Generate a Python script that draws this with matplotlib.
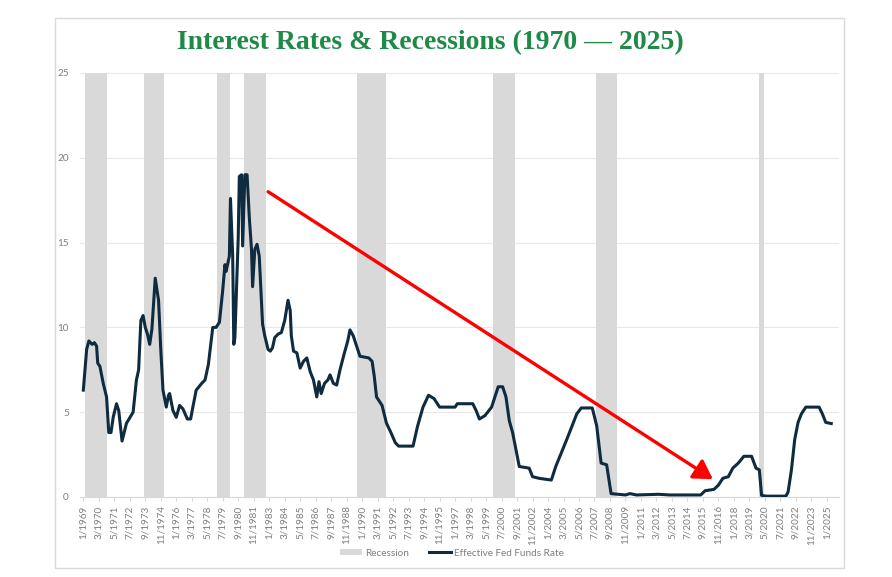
import numpy as np
import matplotlib
matplotlib.use('Agg')
from matplotlib import pyplot as plt
from matplotlib.patches import Rectangle, Patch
from matplotlib.lines import Line2D

# Effective Fed Funds Rate (months since Jan 1969, percent)
rate_month = [0, 3, 5, 8, 10, 12, 13, 15, 18, 21, 23, 25, 27, 30, 32, 35, 39, 45,
              48, 50, 52, 54, 56, 58, 60, 62, 65, 68, 70, 72, 75, 77, 78, 81, 84,
              87, 90, 94, 97, 99, 102, 107, 110, 113, 117, 120, 123, 126, 128, 129,
              132, 133, 135, 136, 137, 140, 141, 143, 144, 146, 148, 150, 152, 153,
              155, 157, 159, 162, 164, 167, 169, 171, 173, 176, 179, 182, 185, 187,
              188, 190, 193, 196, 199, 202, 205, 208, 211, 213, 215, 218, 221, 223,
              226, 229, 232, 236, 239, 241, 244, 247, 250, 258, 261, 263, 265, 270,
              274, 278, 282, 285, 298, 302, 307, 312, 317, 322, 336, 338, 352, 355,
              358, 363, 369, 375, 379, 382, 385, 388, 394, 403, 406, 412, 423, 427,
              437, 446, 450, 460, 464, 468, 473, 476, 477, 490, 494, 500, 520, 530,
              558, 562, 570, 574, 578, 583, 587, 592, 597, 604, 608, 611, 613, 617,
              635, 637, 640, 643, 646, 649, 653, 665, 668, 671, 676]
rate_value = [6.3, 8.7, 9.2, 9.0, 9.1, 8.9, 7.9, 7.7, 6.7, 5.9, 3.8, 3.8, 4.7, 5.5, 5.1, 3.3, 4.35, 5.0,
              6.9, 7.5, 10.4, 10.7, 10.0, 9.6, 9.0, 9.9, 12.9, 11.6, 8.7, 6.3, 5.3, 6.0, 6.1, 5.1, 4.7,
              5.4, 5.2, 4.6, 4.6, 5.3, 6.3, 6.7, 6.9, 7.8, 10.0, 10.0, 10.3, 12.2, 13.7, 13.3,
              14.2, 17.6, 14.2, 9.0, 9.4, 15.3, 18.9, 19.0, 14.8, 19.0, 19.0, 16.5, 14.6, 12.4,
              14.6, 14.9, 14.2, 10.2, 9.5, 8.7, 8.6, 8.8, 9.4, 9.6, 9.7, 10.4, 11.6, 11.0,
              9.5, 8.6, 8.5, 7.6, 8.0, 8.2, 7.4, 6.9, 5.9, 6.8, 6.1, 6.7, 6.9, 7.2,
              6.7, 6.6, 7.5, 8.5, 9.2, 9.85, 9.5, 8.9, 8.3, 8.2, 8.0, 7.1, 5.9, 5.4,
              4.35, 3.8, 3.2, 3.0, 3.0, 4.15, 5.3, 6.0, 5.8, 5.3, 5.3, 5.5, 5.5, 5.1,
              4.6, 4.8, 5.3, 6.5, 6.5, 5.9, 4.5, 3.8, 1.8, 1.7, 1.2, 1.1, 1.0, 1.8,
              3.4, 4.9, 5.25, 5.25, 4.2, 2.0, 1.9, 0.6, 0.2, 0.12, 0.2, 0.12, 0.16, 0.12,
              0.12, 0.37, 0.45, 0.7, 1.1, 1.2, 1.7, 2.0, 2.4, 2.4, 1.7, 1.6, 0.1, 0.05,
              0.05, 0.3, 1.6, 3.4, 4.4, 4.9, 5.3, 5.3, 4.9, 4.4, 4.33]

# recession shading (first and last month, months since Jan 1969)
recession_start = [2, 55, 121, 146, 248, 371, 464, 611]
recession_end = [21, 72, 132, 165, 273, 390, 482, 615]

tick_labels = ['1/1969', '3/1970', '5/1971', '7/1972', '9/1973', '11/1974', '1/1976',
               '3/1977', '5/1978', '7/1979', '9/1980', '11/1981', '1/1983', '3/1984',
               '5/1985', '7/1986', '9/1987', '11/1988', '1/1990', '3/1991', '5/1992',
               '7/1993', '9/1994', '11/1995', '1/1997', '3/1998', '5/1999', '7/2000',
               '9/2001', '11/2002', '1/2004', '3/2005', '5/2006', '7/2007', '9/2008',
               '11/2009', '1/2011', '3/2012', '5/2013', '7/2014', '9/2015', '11/2016',
               '1/2018', '3/2019', '5/2020', '7/2021', '9/2022', '11/2023', '1/2025']
tick_step = 14

# trend arrow (month, rate)
arrow_start = (167, 18.0)
arrow_end = (569, 1.05)

plt.rcParams['font.family'] = ['Lato', 'DejaVu Sans']

fig = plt.figure(figsize=(8.92, 5.77), dpi=100)
fig.patch.set_facecolor('white')
fig.patches.append(Rectangle((55 / 892, 9 / 577), 789 / 892, 550 / 577,
                             transform=fig.transFigure, fill=False,
                             edgecolor='#d9d9d9', lw=1))

ax = fig.add_axes([80 / 892, 80 / 577, 759 / 892, 424 / 577])

for s, e in zip(recession_start, recession_end):
    ax.axvspan(s - 0.5, e + 0.5, color='#d9d9d9', lw=0, zorder=1)

ax.plot(rate_month, rate_value, color='#0e2b3f', lw=2.2, zorder=3,
        solid_joinstyle='round')

ax.annotate('', xy=arrow_end, xytext=arrow_start,
            arrowprops=dict(arrowstyle='-|>,head_length=0.75,head_width=0.45',
                            color='#ff0000', lw=2.4, mutation_scale=15,
                            shrinkA=0, shrinkB=0),
            zorder=4)

ax.set_xlim(-3, 683)
ax.set_ylim(0, 25)
ax.set_yticks(np.arange(0, 26, 5))
ax.set_xticks(np.arange(len(tick_labels)) * tick_step)
ax.set_xticklabels(tick_labels, rotation=90)
ax.grid(axis='y', color='#e8e8e8', lw=0.8, zorder=0)
ax.set_axisbelow(True)
for side in ['top', 'right', 'left']:
    ax.spines[side].set_visible(False)
ax.spines['bottom'].set_color('#d9d9d9')
ax.tick_params(axis='y', length=0, labelsize=7.2, labelcolor='#7f7f7f', pad=8)
ax.tick_params(axis='x', length=3, color='#d9d9d9', labelsize=7.2,
               labelcolor='#7f7f7f', pad=3)

fig.text(430 / 892, 1 - 43 / 577, 'Interest Rates & Recessions (1970 \u2014 2025)',
         ha='center', va='center', fontsize=20, fontweight='bold',
         family='Liberation Serif', color='#1f8a48')

handles = [Patch(facecolor='#d9d9d9', edgecolor='none'),
           Line2D([], [], color='#0e2b3f', lw=2.2)]
fig.legend(handles, ['Recession', 'Effective Fed Funds Rate'],
           loc='center', bbox_to_anchor=(452 / 892, 24 / 577), ncol=2,
           frameon=False, fontsize=7.2, labelcolor='#7f7f7f',
           handlelength=2.2, handleheight=0.6, columnspacing=2.0,
           handletextpad=0.3)

plt.savefig('out.png', dpi=100)
